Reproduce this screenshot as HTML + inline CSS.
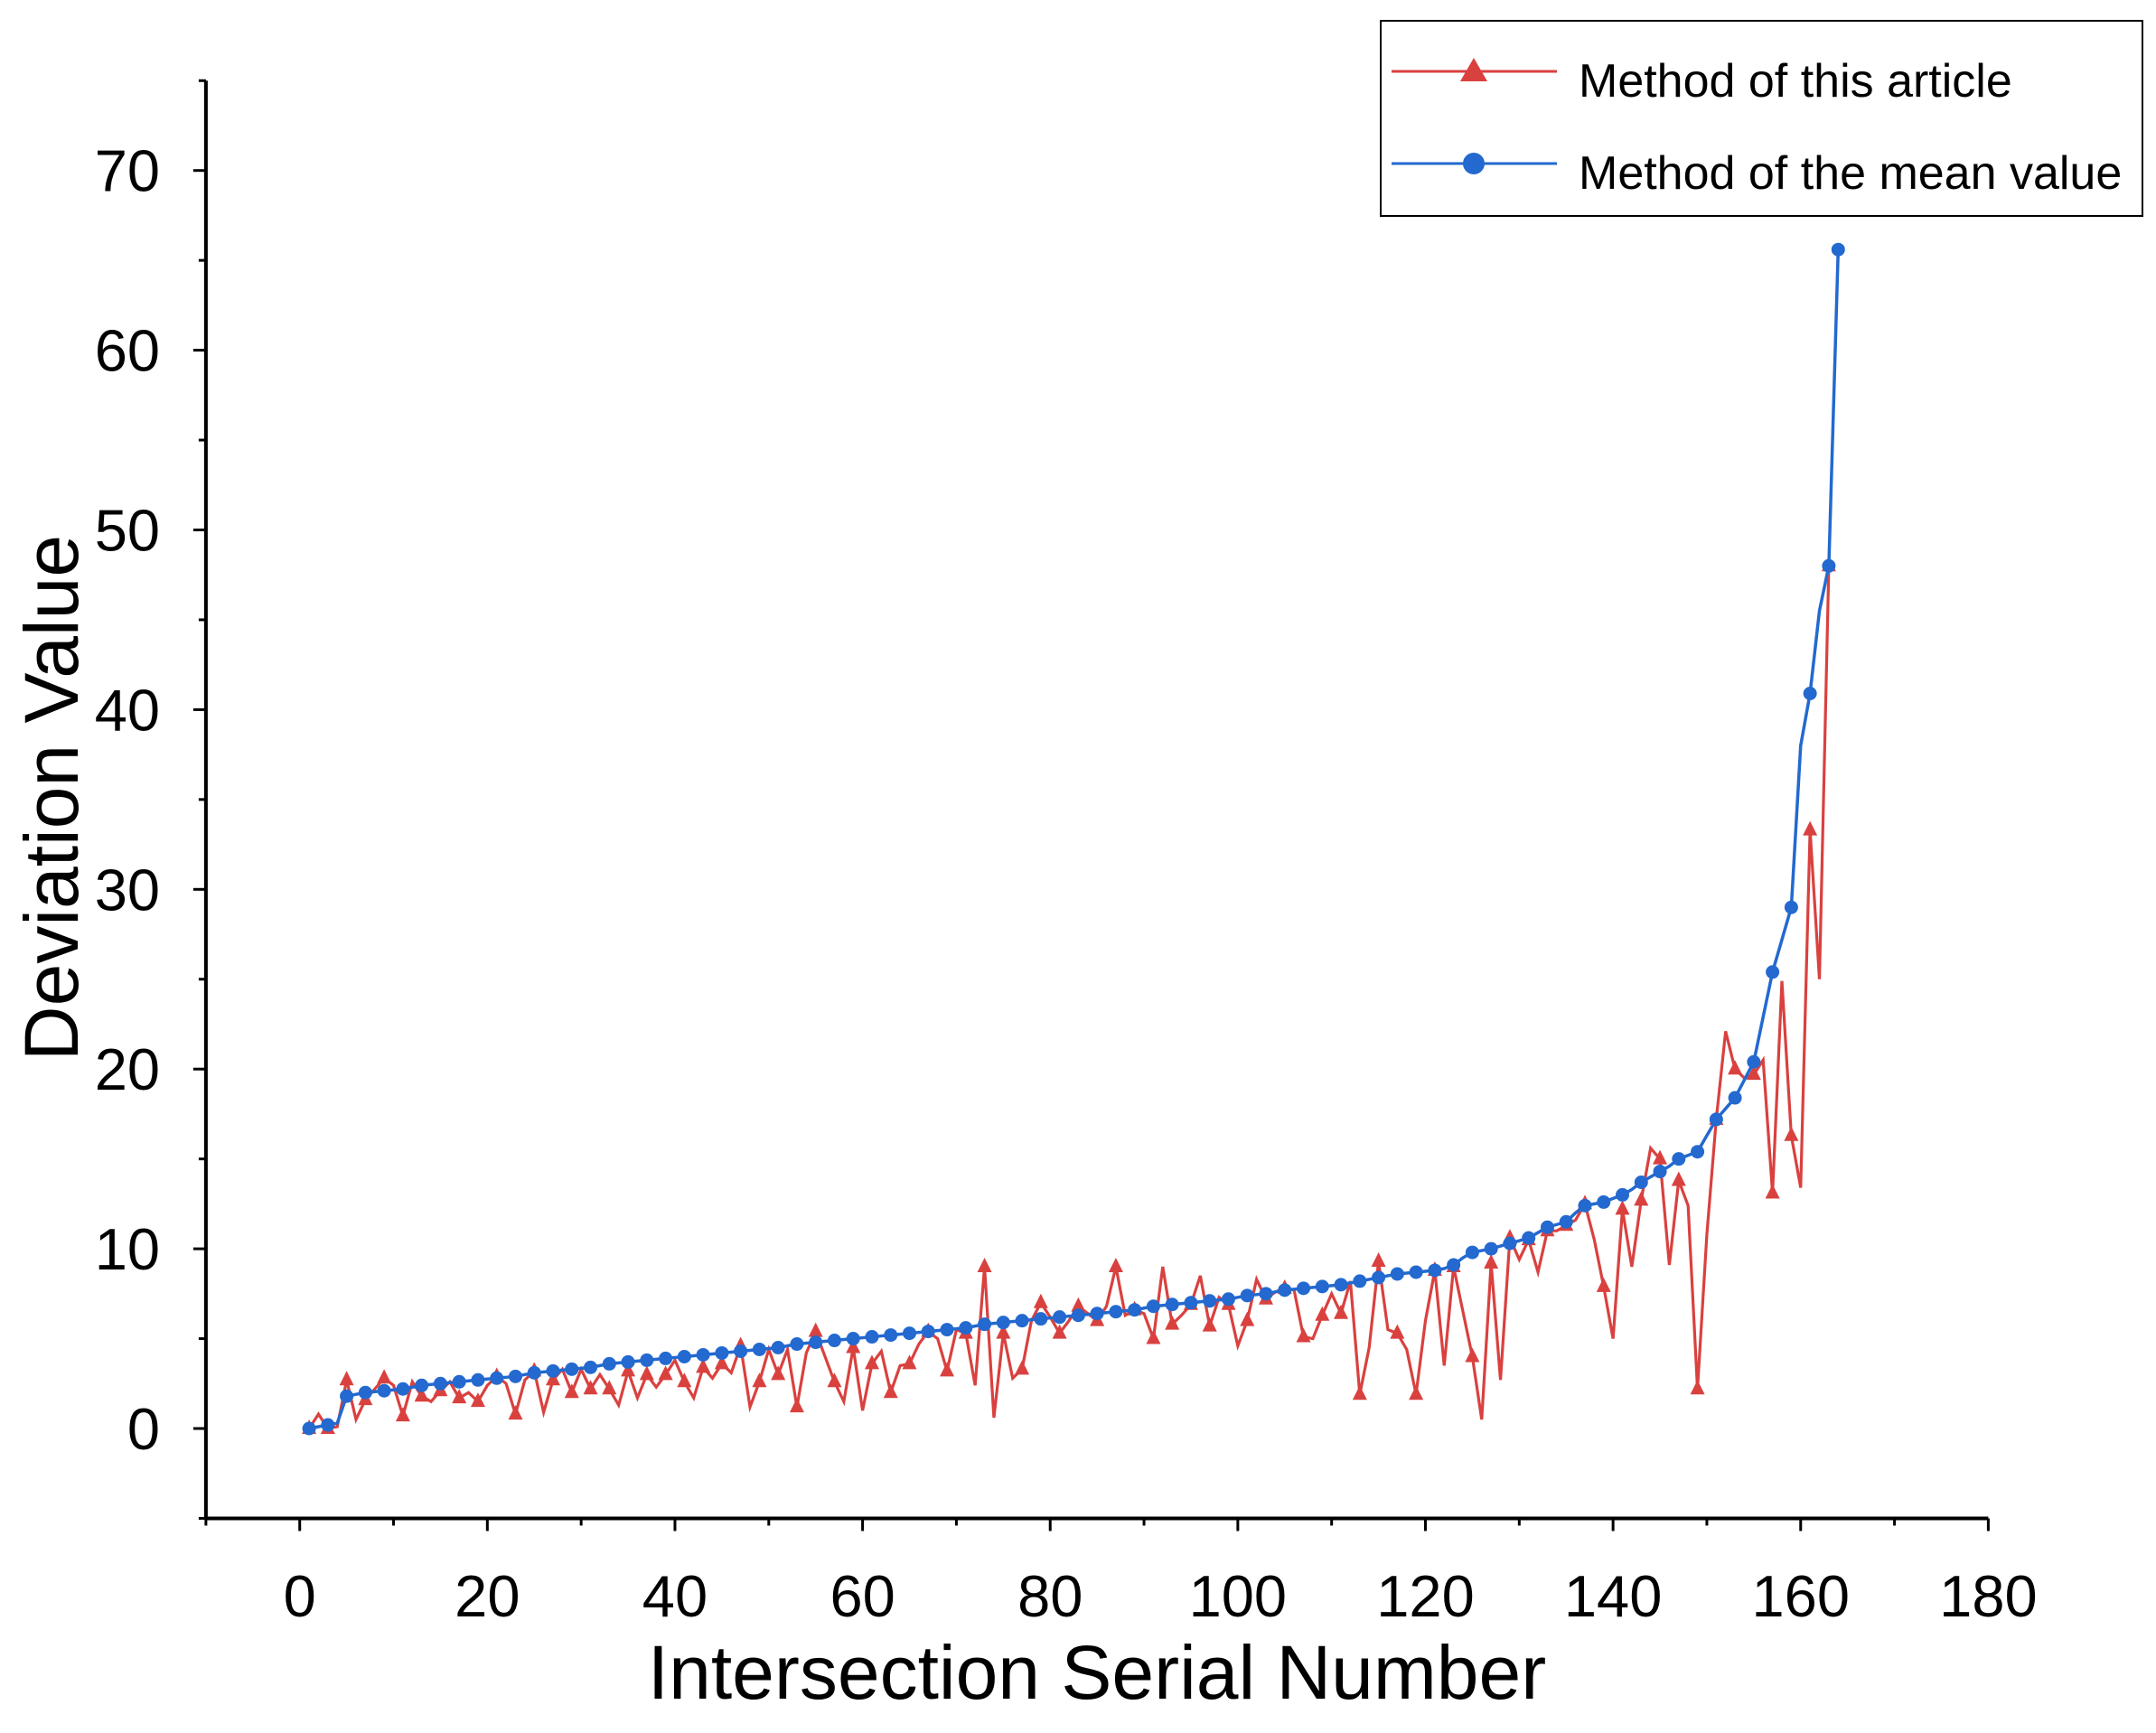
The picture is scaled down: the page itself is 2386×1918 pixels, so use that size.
<!DOCTYPE html>
<html><head><meta charset="utf-8"><style>
html,body{margin:0;padding:0;background:#fff;}
svg text{font-family:"Liberation Sans",Arial,sans-serif;fill:#000;}
</style></head><body>
<svg id="chart" width="2386" height="1913" viewBox="0 0 2386 1913" xmlns="http://www.w3.org/2000/svg">
<g id="axes"></g>
<g id="series"></g>
<g id="legend">
 <rect x="1528" y="23" width="843" height="216" fill="#fff" stroke="#000" stroke-width="2"/>
 <g>
  <line x1="1540" y1="79" x2="1723" y2="79" stroke="#d9413f" stroke-width="3"/>
  <polygon points="1631,64 1646,90 1616,90" fill="#d9413f"/>
  <text x="1747" y="107" font-size="52">Method of this article</text>
 </g>
 <g>
  <line x1="1540" y1="181" x2="1723" y2="181" stroke="#2369cf" stroke-width="3"/>
  <circle cx="1631" cy="181" r="12" fill="#2369cf"/>
  <text x="1747" y="209" font-size="52">Method of the mean value</text>
 </g>
</g>
<text x="1214" y="1880" font-size="84" text-anchor="middle">Intersection Serial Number</text>
<text x="0" y="0" font-size="84" text-anchor="middle" transform="translate(86,883) rotate(-90)">Deviation Value</text>
</svg>
<script>
const xTicks=[0,20,40,60,80,100,120,140,160,180];
const yTicks=[0,10,20,30,40,50,60,70];
const meanValues=[0,0.1,0.2,0.3,1.8,1.9,2.0,2.05,2.1,2.15,2.2,2.3,2.4,2.45,2.5,2.55,2.6,2.65,2.7,2.75,2.8,2.85,2.9,3.0,3.1,3.15,3.2,3.25,3.3,3.35,3.4,3.5,3.6,3.65,3.7,3.75,3.8,3.85,3.9,3.95,4.0,4.05,4.1,4.15,4.2,4.25,4.3,4.35,4.4,4.45,4.5,4.6,4.7,4.75,4.8,4.85,4.9,4.95,5.0,5.05,5.1,5.15,5.2,5.25,5.3,5.35,5.4,5.45,5.5,5.55,5.6,5.7,5.8,5.85,5.9,5.95,6.0,6.05,6.1,6.15,6.2,6.25,6.3,6.35,6.4,6.45,6.5,6.55,6.6,6.7,6.8,6.85,6.9,6.95,7.0,7.05,7.1,7.15,7.2,7.3,7.4,7.45,7.5,7.6,7.7,7.75,7.8,7.85,7.9,7.95,8.0,8.1,8.2,8.3,8.4,8.5,8.6,8.65,8.7,8.75,8.8,8.9,9.1,9.5,9.8,9.9,10.0,10.15,10.3,10.45,10.6,10.9,11.2,11.35,11.5,12.0,12.4,12.5,12.6,12.8,13.0,13.3,13.7,14.0,14.3,14.6,15.0,15.2,15.4,16.3,17.2,17.8,18.4,19.4,20.4,22.9,25.4,27.2,29.0,38.0,40.9,45.5,48.0,65.6];
const articleValues=[0,0.8,0,0.1,2.7,0.5,1.6,2.2,2.8,2.4,0.7,2.6,1.8,1.5,2.1,2.6,1.7,2.0,1.5,2.4,2.9,2.5,0.8,2.7,3.2,0.9,2.7,3.3,2.0,3.3,2.2,3.0,2.2,1.3,3.2,1.7,3.0,2.3,3.0,3.8,2.6,1.7,3.4,2.8,3.6,3.1,4.6,1.2,2.6,4.4,3.0,4.4,1.2,4.2,5.4,4.0,2.6,1.5,4.5,1.0,3.6,4.3,2.0,3.5,3.6,4.7,5.4,5.0,3.2,5.5,5.3,2.4,9.0,0.6,5.3,2.8,3.3,6.0,7.0,6.2,5.3,6.0,6.8,6.4,6.0,6.8,9.0,6.3,6.6,6.4,5.0,9.0,5.8,6.3,6.9,8.5,5.7,7.3,6.9,4.6,6.0,8.3,7.2,7.6,7.8,7.7,5.1,5.0,6.3,7.5,6.4,8.2,1.9,4.5,9.3,5.5,5.3,4.4,1.9,6.0,8.8,3.5,9.0,6.5,4.0,0.5,9.2,2.7,10.6,9.4,10.5,8.7,11.0,11.0,11.3,11.6,12.5,10.5,7.9,5.0,12.2,9.0,12.7,15.6,15.0,9.1,13.8,12.4,2.2,10.8,17.2,22.1,20.0,19.5,19.7,20.5,13.1,24.9,16.3,13.4,33.3,25.0,48.0];
const NS="http://www.w3.org/2000/svg";
const X0=331.7,XS=1868.7/180,Y0=1581,YS=(1581-188.7)/70;
function sx(v){return X0+v*XS;}
function sy(v){return Y0-v*YS;}
function mk(tag,attrs,parent){const e=document.createElementNS(NS,tag);for(const k in attrs)e.setAttribute(k,attrs[k]);parent.appendChild(e);return e;}
const axes=document.getElementById('axes');
const ax=mk('line',{x1:sx(-10),y1:sy(-5),x2:sx(180),y2:sy(-5),stroke:'#000','stroke-width':4},axes);


const ay=mk('line',{x1:sx(-10),y1:sy(-5),x2:sx(-10),y2:sy(75),stroke:'#000','stroke-width':4},axes);


for(let v=-10;v<=180;v+=10){
 const major=xTicks.includes(v);
 const t=mk('line',{x1:sx(v),y1:sy(-5),x2:sx(v),y2:sy(-5)+(major?14:8),stroke:'#000','stroke-width':3},axes);
 
 
}
xTicks.forEach(v=>{
 const t=mk('text',{x:sx(v),y:1789,'font-size':65,'text-anchor':'middle'},axes);t.textContent=v;
 
 
});
for(let v=-5;v<=75;v+=5){
 const major=yTicks.includes(v);
 const t=mk('line',{x1:sx(-10),y1:sy(v),x2:sx(-10)-(major?14:8),y2:sy(v),stroke:'#000','stroke-width':3},axes);
 
 
}
yTicks.forEach(v=>{
 const t=mk('text',{x:177,y:sy(v)+23,'font-size':65,'text-anchor':'end'},axes);t.textContent=v;
 
 
});
const ser=document.getElementById('series');
const rp=mk('polyline',{points:articleValues.map((v,i)=>sx(i+1)+','+sy(v)).join(' '),fill:'none',stroke:'#d9413f','stroke-width':3.2},ser);


articleValues.forEach((v,i)=>{if(i%2)return;const x=sx(i+1),y=sy(v);
 const m=mk('polygon',{points:`${x},${y-10} ${x+8},${y+6} ${x-8},${y+6}`,fill:'#d9413f'},ser);
 
 });
const bp=mk('polyline',{points:meanValues.map((v,i)=>sx(i+1)+','+sy(v)).join(' '),fill:'none',stroke:'#2369cf','stroke-width':3.5},ser);


meanValues.forEach((v,i)=>{if(i%2&&i!==meanValues.length-1)return;
 const m=mk('circle',{cx:sx(i+1),cy:sy(v),r:7.5,fill:'#2369cf'},ser);
 
 });
</script>
</body></html>
